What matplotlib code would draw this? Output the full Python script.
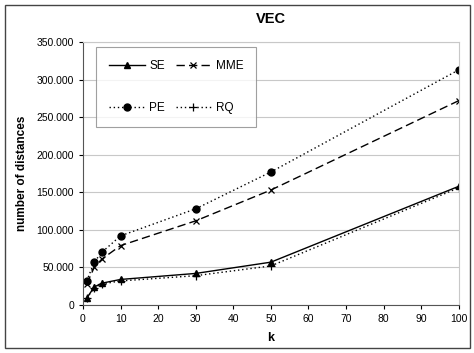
import matplotlib
matplotlib.use("Agg")
import matplotlib.pyplot as plt
from matplotlib.ticker import FuncFormatter
from matplotlib.patches import Rectangle

plt.rcParams['font.family'] = ['Liberation Sans', 'DejaVu Sans']

k = [1, 3, 5, 10, 30, 50, 100]
se = [9000, 24000, 29000, 34000, 42000, 57000, 158000]
mme = [28000, 50000, 61000, 79000, 112000, 153000, 272000]
pe = [32000, 57000, 70000, 92000, 128000, 177000, 313000]
rq = [9000, 23000, 28000, 32000, 39000, 52000, 156000]

fig = plt.figure(figsize=(4.74, 3.53), dpi=100)
ax = fig.add_axes([0.175, 0.136, 0.793, 0.745])

ax.plot(k, se, color='black', lw=1.0, ls='-', marker='^', ms=5, label='SE')
ax.plot(k, pe, color='black', lw=1.0, ls=(0, (1, 2)), marker='o', ms=5, label='PE')
ax.plot(k, mme, color='black', lw=1.0, ls=(0, (6, 3)), marker='x', ms=5, mew=0.9, label='MME')
ax.plot(k, rq, color='black', lw=1.0, ls=(0, (1, 2)), marker='+', ms=6, mew=0.9, label='RQ')

ax.set_xlim(0, 100)
ax.set_ylim(0, 350000)
ax.set_xticks(range(0, 101, 10))
ax.set_yticks(range(0, 350001, 50000))
ax.yaxis.set_major_formatter(FuncFormatter(lambda v, p: f"{int(v):,}".replace(',', '.')))
ax.tick_params(labelsize=7.5, length=3, direction='out', width=0.8, colors='black')
ax.grid(axis='y', color='#c8c8c8', lw=0.8)
ax.set_axisbelow(True)
for s in ['top', 'right']:
    ax.spines[s].set_color('#c8c8c8')
for s in ['left', 'bottom']:
    ax.spines[s].set_color('#555555')

ax.set_title('VEC', fontsize=10.5, fontweight='bold', pad=14)
ax.set_xlabel('k', fontsize=9, fontweight='bold', labelpad=6)
ax.set_ylabel('number of distances', fontsize=8.5, fontweight='bold', labelpad=6)

leg = ax.legend(ncol=2, loc='upper left', bbox_to_anchor=(0.035, 0.981), borderaxespad=0,
                fontsize=8.5, frameon=True, fancybox=False, edgecolor='#888888',
                handlelength=3.0, labelspacing=2.55, columnspacing=0.9, borderpad=1.1,
                handletextpad=0.4)
leg.get_frame().set_linewidth(0.8)

fig.patches.append(Rectangle((0.011, 0.014), 0.98, 0.972, transform=fig.transFigure,
                             fill=False, edgecolor='#444444', lw=1.0))

fig.savefig('out.png', dpi=100)
